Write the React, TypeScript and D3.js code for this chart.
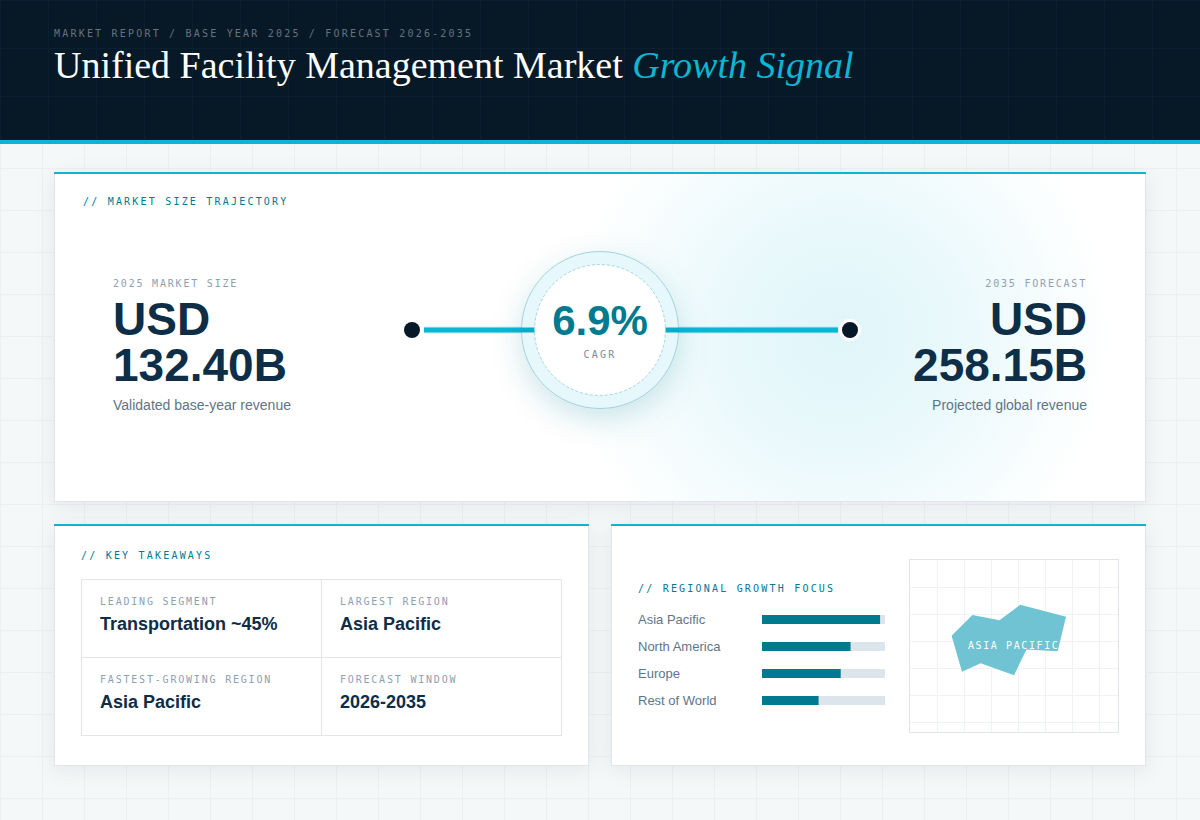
import * as d3 from 'd3'

const regions = ['Asia Pacific', 'North America', 'Europe', 'Rest of World']
const regionShare = [96, 72, 64, 46]

const years = [2025, 2035]
const sizeLabels = ['132.40B', '258.15B']

const takeawayLabels = ['LEADING SEGMENT', 'LARGEST REGION', 'FASTEST-GROWING REGION', 'FORECAST WINDOW']
const takeawayValues = ['Transportation ~45%', 'Asia Pacific', 'Asia Pacific', '2026-2035']

// outline of the highlighted region, in percent of the map box
const shapeX = [20, 30, 43, 53, 75, 71, 56, 50, 34, 25]
const shapeY = [44, 32, 35, 26, 33, 53, 52, 67, 60, 65]

const W = 1200
const H = 820
const MONO = '"DejaVu Sans Mono", monospace'
const SANS = '"Liberation Sans", Arial, sans-serif'
const SERIF = '"Liberation Serif", "Times New Roman", serif'
const CYAN = '#0ab6d3'
const TEAL = '#007a8f'
const NAVY = '#0e2d47'
const DARK = '#071926'
const MUTED = '#5f7488'
const LABEL = '#8ea0b2'

function Card({ x, y, w, h }: { x: number; y: number; w: number; h: number }) {
  return (
    <g>
      <rect x={x} y={y} width={w} height={h} fill="#fff" filter="url(#cardShadow)" />
      <rect x={x + 0.5} y={y + 0.5} width={w - 1} height={h - 1} fill="none" stroke="#e2e6e9" />
    </g>
  )
}

function CardTop({ x, y, w }: { x: number; y: number; w: number }) {
  return <rect x={x} y={y} width={w} height={2} fill={CYAN} />
}

function Eyebrow({ x, y, text }: { x: number; y: number; text: string }) {
  return (
    <text x={x} y={y} fontFamily={MONO} fontSize={10} letterSpacing={2.2} fill={TEAL}>
      {text}
    </text>
  )
}

export default function App() {
  const xYear = d3.scaleLinear().domain([2025, 2035]).range([412, 850])
  const xBar = d3.scaleLinear().domain([0, 100]).range([762, 885])
  const yBar = d3.scaleBand().domain(regions).range([606, 714]).paddingInner(0.63).paddingOuter(0.315)

  const mapX = d3.scaleLinear().domain([0, 100]).range([910, 1118])
  const mapY = d3.scaleLinear().domain([0, 100]).range([560, 732])
  const shapePath = d3
    .line<number>()
    .x((d) => mapX(d))
    .y((_, i) => mapY(shapeY[i]))
    .curve(d3.curveLinearClosed)(shapeX)

  const pageGridX = d3.range(0, W, 42)
  const pageGridY = d3.range(0, H, 42)
  const headGridX = d3.range(0, W, 48)
  const headGridY = d3.range(0, 140, 48)
  const mapGridX = d3.range(910, 1118, 27)
  const mapGridY = d3.range(560, 732, 27)

  const cellX = d3.scaleOrdinal<number, number>().domain([0, 1]).range([82, 322])
  const cellY = d3.scaleOrdinal<number, number>().domain([0, 1]).range([580, 658])

  return (
    <svg
      width={W}
      height={H}
      viewBox={`0 0 ${W} ${H}`}
      style={{ position: 'fixed', left: 0, top: 0, display: 'block' }}
    >
      <defs>
        <filter id="cardShadow" x="-10%" y="-10%" width="120%" height="125%">
          <feDropShadow dx="0" dy="4" stdDeviation="10" floodColor="#0d2b42" floodOpacity="0.07" />
        </filter>
        <filter id="ringShadow" x="-50%" y="-50%" width="200%" height="200%">
          <feDropShadow dx="0" dy="10" stdDeviation="15" floodColor="#007a8f" floodOpacity="0.2" />
        </filter>
        <radialGradient id="glow" gradientUnits="userSpaceOnUse" cx="840" cy="335" r="275">
          <stop offset="0" stopColor={CYAN} stopOpacity="0.13" />
          <stop offset="0.4" stopColor={CYAN} stopOpacity="0.09" />
          <stop offset="0.7" stopColor={CYAN} stopOpacity="0.045" />
          <stop offset="1" stopColor={CYAN} stopOpacity="0" />
        </radialGradient>
        <clipPath id="mainClip">
          <rect x={55} y={174} width={1090} height={327} />
        </clipPath>
      </defs>

      {/* page */}
      <rect width={W} height={H} fill="#f5f8f9" />
      {pageGridX.map((x) => (
        <line key={x} x1={x + 0.5} x2={x + 0.5} y1={144} y2={H} stroke="#ecf0f2" />
      ))}
      {pageGridY.filter((y) => y > 144).map((y) => (
        <line key={y} y1={y + 0.5} y2={y + 0.5} x1={0} x2={W} stroke="#ecf0f2" />
      ))}

      {/* header */}
      <rect width={W} height={140} fill={DARK} />
      {headGridX.map((x) => (
        <line key={x} x1={x + 0.5} x2={x + 0.5} y1={0} y2={140} stroke="#0b202e" />
      ))}
      {headGridY.map((y) => (
        <line key={y} y1={y + 0.5} y2={y + 0.5} x1={0} x2={W} stroke="#0b202e" />
      ))}
      <rect y={140} width={W} height={4} fill={CYAN} />
      <text x={54} y={37} fontFamily={MONO} fontSize={10} letterSpacing={2.2} fill="#66737d">
        MARKET REPORT / BASE YEAR 2025 / FORECAST 2026-2035
      </text>
      <text x={54} y={78} fontFamily={SERIF} fontSize={38} fill="#fff">
        Unified Facility Management Market{' '}
        <tspan fontStyle="italic" fill={CYAN}>
          Growth Signal
        </tspan>
      </text>

      {/* trajectory card */}
      <Card x={54} y={172} w={1092} h={330} />
      <rect x={55} y={174} width={1090} height={327} fill="url(#glow)" clipPath="url(#mainClip)" />
      <CardTop x={54} y={172} w={1092} />
      <Eyebrow x={83} y={205} text="// MARKET SIZE TRAJECTORY" />

      <text x={113} y={287} fontFamily={MONO} fontSize={10} letterSpacing={1.8} fill={LABEL}>
        {years[0]} MARKET SIZE
      </text>
      <text fontFamily={SANS} fontSize={46} fontWeight={700} fill={NAVY}>
        <tspan x={113} y={335}>USD</tspan>
        <tspan x={113} y={381}>{sizeLabels[0]}</tspan>
      </text>
      <text x={113} y={410} fontFamily={SANS} fontSize={14} fill={MUTED}>
        Validated base-year revenue
      </text>

      <text x={1087} y={287} textAnchor="end" fontFamily={MONO} fontSize={10} letterSpacing={1.8} fill={LABEL}>
        {years[1]} FORECAST
      </text>
      <text fontFamily={SANS} fontSize={46} fontWeight={700} fill={NAVY} textAnchor="end">
        <tspan x={1087} y={335}>USD</tspan>
        <tspan x={1087} y={381}>{sizeLabels[1]}</tspan>
      </text>
      <text x={1087} y={410} textAnchor="end" fontFamily={SANS} fontSize={14} fill={MUTED}>
        Projected global revenue
      </text>

      <line x1={xYear(2025) + 12} x2={xYear(2035) - 12} y1={330} y2={330} stroke={CYAN} strokeOpacity={0.2} strokeWidth={7} />
      <line x1={xYear(2025) + 12} x2={xYear(2035) - 12} y1={330} y2={330} stroke={CYAN} strokeWidth={5} />
      <circle cx={600} cy={330} r={78.5} fill="#fff" filter="url(#ringShadow)" />
      <circle cx={600} cy={330} r={78.5} fill={CYAN} fillOpacity={0.1} stroke="#a5d3df" />
      <line x1={521} x2={679} y1={330} y2={330} stroke="#07acc8" strokeWidth={5} />
      <circle cx={600} cy={330} r={65.5} fill="#fff" stroke="#a5d3df" strokeDasharray="3 2" />
      <text x={600} y={335} textAnchor="middle" fontFamily={SANS} fontSize={42} fontWeight={700} fill={TEAL}>
        6.9%
      </text>
      <text x={600} y={358} textAnchor="middle" fontFamily={MONO} fontSize={10} letterSpacing={2.2} fill="#7b8a99">
        CAGR
      </text>
      {years.map((yr, i) => (
        <circle
          key={yr}
          cx={xYear(yr)}
          cy={330}
          r={i === 1 ? 9.5 : 8}
          fill={DARK}
          stroke={i === 1 ? '#fff' : 'none'}
          strokeWidth={i === 1 ? 3 : 0}
        />
      ))}

      {/* takeaways card */}
      <Card x={54} y={524} w={535} h={242} />
      <CardTop x={54} y={524} w={535} />
      <Eyebrow x={81} y={559} text="// KEY TAKEAWAYS" />
      <rect x={81.5} y={579.5} width={480} height={156} fill="none" stroke="#e2e6e9" />
      <line x1={321.5} x2={321.5} y1={580} y2={735} stroke="#e2e6e9" />
      <line x1={82} x2={561} y1={657.5} y2={657.5} stroke="#e2e6e9" />
      {takeawayLabels.map((label, i) => (
        <g key={label} transform={`translate(${cellX(i % 2)},${cellY(Math.floor(i / 2))})`}>
          <text x={18} y={25} fontFamily={MONO} fontSize={10} letterSpacing={1.8} fill={LABEL}>
            {label}
          </text>
          <text x={18} y={50} fontFamily={SANS} fontSize={18} fontWeight={700} fill={NAVY}>
            {takeawayValues[i]}
          </text>
        </g>
      ))}

      {/* regional card */}
      <Card x={611} y={524} w={535} h={242} />
      <CardTop x={611} y={524} w={535} />
      <Eyebrow x={638} y={592} text="// REGIONAL GROWTH FOCUS" />
      {regions.map((r, i) => (
        <g key={r}>
          <text
            x={638}
            y={(yBar(r) ?? 0) + yBar.bandwidth() / 2 + 4.5}
            fontFamily={SANS}
            fontSize={13}
            fill={MUTED}
          >
            {r}
          </text>
          <rect x={xBar(0)} y={Math.round(yBar(r) ?? 0)} width={xBar(100) - xBar(0)} height={9} fill="#dce5ec" />
          <rect
            x={xBar(0)}
            y={Math.round(yBar(r) ?? 0)}
            width={xBar(regionShare[i]) - xBar(0)}
            height={9}
            fill={TEAL}
          />
        </g>
      ))}

      {/* map */}
      <rect x={909.5} y={559.5} width={209} height={173} fill="#fff" stroke="#dfe5e9" />
      {mapGridX.slice(1).map((x) => (
        <line key={x} x1={x + 0.5} x2={x + 0.5} y1={560} y2={732} stroke="#f0f3f5" />
      ))}
      {mapGridY.slice(1).map((y) => (
        <line key={y} y1={y + 0.5} y2={y + 0.5} x1={910} x2={1118} stroke="#f0f3f5" />
      ))}
      <path d={shapePath ?? ''} fill="#6fc3d2" />
      <text x={968} y={649} fontFamily={MONO} fontSize={10} letterSpacing={1.6} fill="#fff">
        ASIA PACIFIC
      </text>
    </svg>
  )
}
